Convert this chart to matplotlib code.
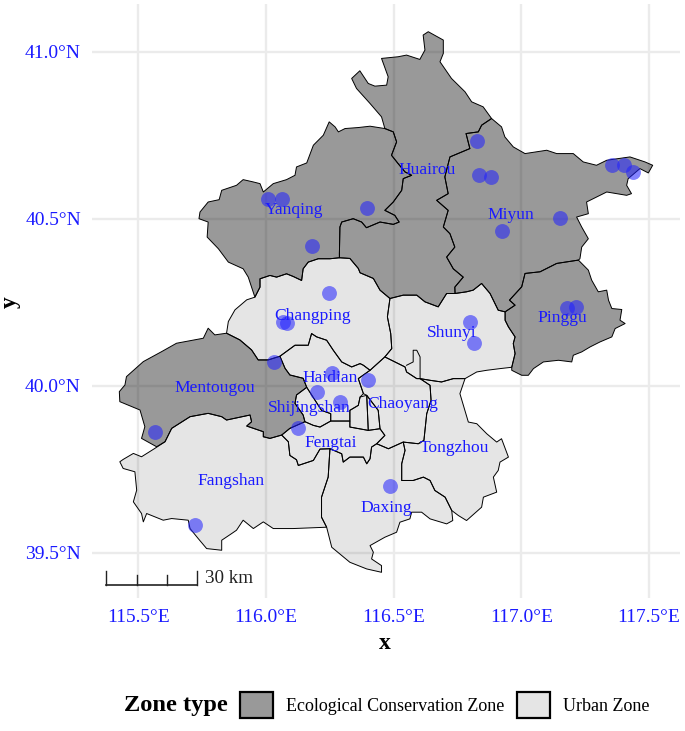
import matplotlib
matplotlib.use("Agg")
import matplotlib.pyplot as plt
from matplotlib.patches import Patch

plt.rcParams['font.family'] = ['Liberation Serif', 'DejaVu Serif']

# Boundary arcs in lon/lat
y_north = [(115.737,40.500),(115.741,40.520),(115.773,40.550),(115.816,40.557),(115.826,40.585),(115.884,40.600),(115.910,40.617),(115.950,40.610),(115.976,40.605),(115.989,40.580),(116.028,40.605),(116.080,40.617),(116.113,40.630),(116.119,40.655),(116.159,40.667),(116.185,40.720),(116.224,40.750),(116.247,40.790),(116.270,40.775),(116.283,40.760),(116.309,40.770),(116.361,40.773),(116.407,40.777),(116.465,40.770)]
y_huai = [(116.465,40.770),(116.498,40.760),(116.511,40.730),(116.491,40.690),(116.517,40.665),(116.544,40.640),(116.570,40.630),(116.537,40.620),(116.531,40.585),(116.498,40.550),(116.465,40.525),(116.504,40.510),(116.521,40.490),(116.498,40.483),(116.446,40.490),(116.393,40.473),(116.374,40.490),(116.341,40.500),(116.296,40.490),(116.289,40.475),(116.287,40.395),(116.287,40.383)]
y_chang = [(116.287,40.383),(116.250,40.380),(116.204,40.380),(116.165,40.370),(116.145,40.350),(116.139,40.315),(116.106,40.327),(116.080,40.335),(116.041,40.325),(116.015,40.330),(115.976,40.320),(115.976,40.295),(115.956,40.265)]
y_west = [(115.737,40.500),(115.773,40.490),(115.769,40.445),(115.813,40.410),(115.852,40.370),(115.910,40.350),(115.930,40.325),(115.956,40.265)]
h_north = [(116.465,40.770),(116.452,40.805),(116.407,40.845),(116.354,40.890),(116.335,40.920),(116.367,40.943),(116.400,40.905),(116.426,40.897),(116.472,40.900),(116.478,40.925),(116.452,40.980),(116.517,40.985),(116.550,40.990),(116.602,40.977),(116.622,41.005),(116.615,41.050),(116.635,41.060),(116.694,41.035),(116.694,40.995),(116.681,40.970),(116.726,40.920),(116.779,40.880),(116.805,40.850),(116.850,40.835),(116.883,40.800)]
h_miyun = [(116.883,40.800),(116.844,40.780),(116.831,40.760),(116.783,40.755),(116.798,40.710),(116.720,40.685),(116.700,40.625),(116.713,40.575),(116.668,40.555),(116.713,40.525),(116.694,40.475),(116.720,40.455),(116.739,40.415),(116.707,40.385),(116.733,40.350),(116.772,40.325),(116.739,40.295),(116.740,40.276)]
h_chang = [(116.287,40.383),(116.328,40.381),(116.361,40.351),(116.368,40.338),(116.420,40.321),(116.446,40.286),(116.485,40.261)]
h_shun = [(116.485,40.261),(116.537,40.271),(116.590,40.271),(116.622,40.251),(116.674,40.236),(116.707,40.276),(116.740,40.276)]
m_shun = [(116.740,40.276),(116.785,40.281),(116.811,40.286),(116.844,40.306),(116.877,40.276),(116.909,40.226),(116.936,40.221)]
m_ping = [(116.936,40.221),(116.975,40.241),(116.953,40.256),(117.001,40.296),(117.014,40.336),(117.073,40.341),(117.138,40.366),(117.223,40.376)]
m_outer = [(116.883,40.800),(116.922,40.775),(116.935,40.745),(116.968,40.715),(117.014,40.695),(117.099,40.705),(117.138,40.695),(117.203,40.695),(117.242,40.670),(117.294,40.660),(117.334,40.675),(117.425,40.685),(117.484,40.670),(117.514,40.660),(117.497,40.637),(117.464,40.650),(117.418,40.620),(117.412,40.600),(117.431,40.575),(117.412,40.570),(117.334,40.580),(117.255,40.550),(117.262,40.515),(117.216,40.505),(117.236,40.475),(117.262,40.440),(117.236,40.415),(117.229,40.380),(117.223,40.376)]
p_outer = [(117.223,40.376),(117.262,40.346),(117.275,40.316),(117.301,40.281),(117.334,40.286),(117.341,40.256),(117.354,40.231),(117.393,40.228),(117.386,40.196),(117.406,40.186),(117.367,40.171),(117.354,40.146),(117.308,40.131),(117.269,40.116),(117.236,40.101),(117.203,40.091),(117.197,40.071),(117.145,40.076),(117.086,40.071),(117.047,40.051),(117.027,40.031),(117.001,40.031),(116.962,40.046),(116.962,40.055)]
p_shun = [(116.962,40.055),(116.975,40.096),(116.968,40.126),(116.975,40.146),(116.949,40.176),(116.936,40.196),(116.936,40.221)]
s_south = [(116.962,40.055),(116.916,40.051),(116.864,40.046),(116.825,40.041),(116.779,40.021)]
s_tong = [(116.779,40.021),(116.733,40.021),(116.687,40.011),(116.642,40.016),(116.603,40.021)]
s_chao = [(116.603,40.021),(116.590,40.021),(116.550,40.041),(116.544,40.056),(116.465,40.086)]
s_notch = [(116.603,40.021),(116.603,40.086),(116.590,40.106),(116.576,40.106),(116.576,40.071),(116.550,40.061)]
c_shun = [(116.465,40.086),(116.492,40.111),(116.488,40.156),(116.475,40.206),(116.485,40.261)]
c_chao = [(116.465,40.086),(116.407,40.046)]
c_hai = [(116.407,40.046),(116.381,40.061),(116.368,40.066),(116.335,40.056),(116.296,40.071),(116.263,40.106),(116.237,40.136),(116.198,40.146),(116.178,40.156),(116.165,40.121),(116.113,40.121),(116.054,40.088)]
c_ment = [(116.054,40.088),(116.008,40.077),(115.969,40.077),(115.943,40.107),(115.897,40.137),(115.845,40.157)]
c_west = [(115.845,40.157),(115.852,40.192),(115.878,40.227),(115.924,40.257),(115.956,40.265)]
me_outer = [(115.845,40.157),(115.799,40.152),(115.773,40.172),(115.754,40.142),(115.649,40.127),(115.591,40.102),(115.519,40.072),(115.453,40.027),(115.447,40.002),(115.425,39.982),(115.427,39.952),(115.506,39.927),(115.525,39.877),(115.512,39.842),(115.571,39.817),(115.604,39.832)]
me_fang = [(115.604,39.832),(115.630,39.872),(115.702,39.907),(115.773,39.917),(115.826,39.907),(115.845,39.897),(115.937,39.912),(115.943,39.892),(115.924,39.879),(115.989,39.862),(115.989,39.847),(116.015,39.842),(116.061,39.852)]
me_feng = [(116.061,39.852),(116.093,39.872),(116.152,39.892)]
me_shi = [(116.152,39.892),(116.145,39.912),(116.113,39.947),(116.119,39.972),(116.159,39.995)]
me_hai = [(116.159,39.995),(116.145,40.022),(116.093,40.032),(116.074,40.052),(116.054,40.088)]
shi_hai = [(116.159,39.995),(116.217,39.926),(116.253,39.916),(116.253,39.894)]
shi_feng = [(116.253,39.894),(116.211,39.876),(116.185,39.881),(116.152,39.892)]
feng_fang = [(116.061,39.852),(116.087,39.832),(116.093,39.791),(116.119,39.778),(116.126,39.761),(116.185,39.776),(116.211,39.810),(116.250,39.811)]
feng_da = [(116.250,39.811),(116.296,39.796),(116.302,39.771),(116.328,39.786),(116.381,39.786),(116.394,39.766),(116.407,39.781),(116.413,39.816),(116.433,39.826)]
feng_top = [(116.433,39.826),(116.465,39.851),(116.446,39.871),(116.400,39.866),(116.328,39.876),(116.328,39.894),(116.253,39.894)]
hai_east = [(116.407,40.046),(116.361,40.021),(116.381,39.976),(116.368,39.966),(116.361,39.941),(116.328,39.926),(116.328,39.894)]
xicheng = [(116.328,39.894),(116.328,39.926),(116.361,39.941),(116.368,39.966),(116.394,39.971),(116.400,39.866),(116.328,39.876)]
dongcheng = [(116.394,39.971),(116.439,39.926),(116.446,39.871),(116.400,39.866)]
chao_west = [(116.433,39.826),(116.465,39.851),(116.446,39.871),(116.439,39.926),(116.394,39.971),(116.381,39.976),(116.361,40.021),(116.407,40.046)]
chao_tong = [(116.603,40.021),(116.642,40.001),(116.646,39.956),(116.629,39.916),(116.618,39.836),(116.596,39.826),(116.537,39.831)]
chao_da = [(116.537,39.831),(116.479,39.811),(116.433,39.826)]
tong_outer = [(116.779,40.021),(116.759,39.976),(116.792,39.891),(116.825,39.886),(116.864,39.856),(116.903,39.831),(116.922,39.841),(116.949,39.786),(116.916,39.771),(116.909,39.746),(116.890,39.726),(116.903,39.681),(116.851,39.666),(116.844,39.636),(116.785,39.596),(116.753,39.611),(116.727,39.626)]
tong_da = [(116.727,39.626),(116.701,39.666),(116.661,39.686),(116.642,39.716),(116.616,39.726),(116.576,39.716),(116.531,39.716),(116.531,39.766),(116.544,39.806),(116.537,39.831)]
da_south = [(116.727,39.626),(116.731,39.596),(116.707,39.586),(116.642,39.601),(116.609,39.621),(116.570,39.621),(116.563,39.601),(116.524,39.591),(116.511,39.561),(116.465,39.546),(116.407,39.521),(116.420,39.501),(116.413,39.481),(116.452,39.461),(116.452,39.441),(116.394,39.451),(116.328,39.471),(116.257,39.516),(116.237,39.576)]
da_west = [(116.237,39.576),(116.217,39.606),(116.217,39.666),(116.243,39.726),(116.250,39.811)]
fang_south = [(116.237,39.576),(116.106,39.572),(116.028,39.572),(115.989,39.592),(115.950,39.572),(115.910,39.597),(115.884,39.567),(115.865,39.557),(115.826,39.537),(115.826,39.507),(115.767,39.512),(115.734,39.542),(115.702,39.572),(115.695,39.597),(115.630,39.602),(115.597,39.597),(115.532,39.617),(115.519,39.592),(115.512,39.617),(115.480,39.652),(115.493,39.687),(115.486,39.742),(115.440,39.752),(115.427,39.772),(115.440,39.779),(115.480,39.797),(115.512,39.787),(115.564,39.812),(115.604,39.832)]

def rev(a):
    return a[::-1]

eco_zones = {
    'Yanqing': y_north + y_huai + y_chang + rev(y_west),
    'Huairou': h_north + h_miyun + rev(h_shun) + rev(h_chang) + rev(y_huai),
    'Miyun': m_outer + rev(m_ping) + rev(m_shun) + rev(h_miyun),
    'Pinggu': p_outer + p_shun + m_ping,
    'Mentougou': me_outer + me_fang + me_feng + me_shi + me_hai + c_ment,
}
urban_zones = {
    'Changping': h_chang + rev(c_shun) + c_chao + c_hai + c_ment + c_west + rev(y_chang),
    'Shunyi': h_shun + m_shun + rev(p_shun) + s_south + s_tong + s_chao + c_shun,
    'Fangshan': me_fang + feng_fang + rev(da_west) + fang_south,
    'Fengtai': feng_fang + feng_da + feng_top + shi_feng + rev(me_feng),
    'Shijingshan': shi_hai + shi_feng + me_shi,
    'Haidian': rev(c_hai) + hai_east + [(116.253,39.894)] + rev(shi_hai) + me_hai,
    'Xicheng': xicheng,
    'Dongcheng': dongcheng,
    'Chaoyang': rev(c_chao) + rev(s_chao) + chao_tong + chao_da + chao_west,
    'Tongzhou': rev(chao_tong) + rev(s_tong) + tong_outer + tong_da,
    'Daxing': feng_da + rev(chao_da) + rev(tong_da) + da_south + da_west,
}

label_names = ['Yanqing','Huairou','Miyun','Pinggu','Changping','Shunyi','Mentougou','Haidian','Shijingshan','Chaoyang','Fengtai','Tongzhou','Fangshan','Daxing']
label_lon = [116.109,116.630,116.957,117.159,116.180,116.728,115.800,116.250,116.168,116.536,116.254,116.736,115.862,116.469]
label_lat = [40.526,40.646,40.511,40.203,40.209,40.158,39.993,40.023,39.933,39.945,39.828,39.814,39.715,39.634]

site_lon = [116.008,116.063,116.394,116.180,116.247,116.825,116.833,116.882,116.925,117.152,117.354,117.401,117.436,115.565,115.721,116.031,116.065,116.083,116.124,116.259,116.199,116.290,116.399,116.800,116.814,116.485,117.177,117.213]
site_lat = [40.558,40.559,40.533,40.419,40.277,40.732,40.631,40.626,40.462,40.501,40.661,40.661,40.641,39.862,39.583,40.070,40.190,40.188,39.872,40.037,39.981,39.950,40.017,40.192,40.128,39.698,40.232,40.237]

x_ticks = [115.5,116.0,116.5,117.0,117.5]
x_tick_labels = ['115.5°E','116.0°E','116.5°E','117.0°E','117.5°E']
y_ticks = [39.5,40.0,40.5,41.0]
y_tick_labels = ['39.5°N','40.0°N','40.5°N','41.0°N']

scale_lon = [115.373,115.493,115.611,115.729]
scale_lat = [39.403,39.433,39.446]

ECO = (0,0,0,0.40)
URB = (0,0,0,0.10)

W, H = 685, 731
fig = plt.figure(figsize=(W/100, H/100), dpi=100)
ax = fig.add_axes([92/W, 1-598/H, 588/W, 594/H])
ax.set_xlim(115.318, 117.621)
ax.set_ylim(39.364, 41.143)
for s in ax.spines.values():
    s.set_visible(False)
ax.set_axisbelow(True)
ax.grid(True, color='#EBEBEB', lw=1.7)
ax.set_xticks(x_ticks, x_tick_labels, color='#1a1aff', fontsize=14)
ax.set_yticks(y_ticks, y_tick_labels, color='#1a1aff', fontsize=14)
ax.tick_params(length=0, pad=8)

for zones, col in ((urban_zones, URB), (eco_zones, ECO)):
    for name, pts in zones.items():
        xs, ys = zip(*pts)
        ax.fill(xs, ys, facecolor=col, edgecolor='black', lw=0.7, joinstyle='round')
xs, ys = zip(*s_notch)
ax.plot(xs, ys, color='black', lw=0.7)

ax.scatter(site_lon, site_lat, s=115, color='#2020ff', alpha=0.55, linewidths=0, zorder=4)
for n, lo, la in zip(label_names, label_lon, label_lat):
    ax.text(lo, la, n, color='#1a1aff', fontsize=12.6, ha='center', va='center', zorder=5)

# scale bar
ax.plot(scale_lon[::3], [scale_lat[0]]*2, color='#222222', lw=1.2, zorder=6)
for i, lo in enumerate(scale_lon):
    top = scale_lat[2] if i in (0, 3) else scale_lat[1]
    ax.plot([lo, lo], [scale_lat[0], top], color='#222222', lw=1.0, zorder=6)
ax.text(115.762, 39.422, '30 km', fontsize=13.8, color='#222222', ha='left', va='center')

ax.set_xlabel('x', fontsize=17, fontweight='bold', va='center')
ax.xaxis.set_label_coords(0.498, -0.076)
ax.set_ylabel('y', fontsize=17, fontweight='bold', va='center')
ax.yaxis.set_label_coords(-0.139, 0.498)

fig.text(124/W, 1-705/H, 'Zone type', fontsize=17.6, fontweight='bold', ha='left', va='center')
handles = [Patch(facecolor=ECO, edgecolor='black', lw=1.6, label='Ecological Conservation Zone'),
           Patch(facecolor=URB, edgecolor='black', lw=1.6, label='Urban Zone')]
fig.legend(handles=handles, loc='center left', bbox_to_anchor=(240/W, 1-705/H), ncols=2, frameon=False,
           fontsize=13, handlelength=1.85, handleheight=1.9, handletextpad=0.7, columnspacing=0.67, borderpad=0, borderaxespad=0)

fig.savefig('out.png', dpi=100)
